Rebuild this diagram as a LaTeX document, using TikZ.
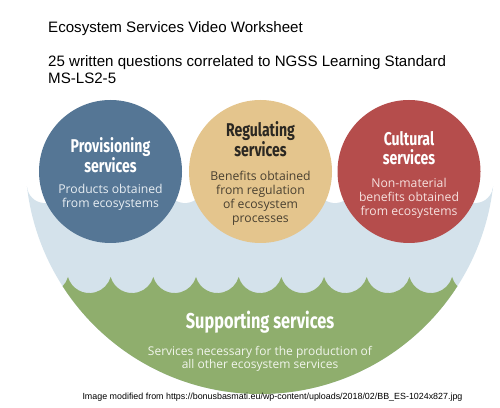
\documentclass[tikz,border=0pt]{standalone}
\usepackage{fontspec}
\setmainfont{Liberation Sans}
\newfontfamily\headfont[FakeStretch=0.76]{Fira Sans}
\newfontfamily\bodyfont{Open Sans}
\usepackage{tikz}

\definecolor{provblue}{HTML}{557695}
\definecolor{regtan}{HTML}{E4C58D}
\definecolor{cultred}{HTML}{B54D4C}
\definecolor{waterblue}{HTML}{D4E2EB}
\definecolor{soilgreen}{HTML}{8FAE6D}
\definecolor{provtxt}{HTML}{E8EEF3}
\definecolor{regdark}{HTML}{2B2822}
\definecolor{regtxt}{HTML}{4A4131}
\definecolor{culttxt}{HTML}{F6E1DF}
\definecolor{supptxt}{HTML}{F1F5EC}

\tikzset{
  service/.style={circle, inner sep=0, minimum size=143pt},
  headtxt/.style={align=center, inner sep=0, text=white,
    font=\headfont\bfseries\fontsize{18.5}{19}\selectfont},
  bodytxt/.style={align=center, inner sep=0,
    font=\bodyfont\fontsize{12.2}{14}\selectfont},
  titletxt/.style={anchor=base west, inner sep=0,
    font=\fontsize{15.1}{17.3}\selectfont}
}

\begin{document}
\begin{tikzpicture}[x=1pt, y=1pt]
  \useasboundingbox (0,0) rectangle (500,407);

  \node[titletxt] (title) at (48,374.7) {Ecosystem Services Video Worksheet};
  \node[titletxt] (question) at (48,340) {25 written questions correlated to NGSS Learning Standard};
  \node[titletxt] (standard) at (48,323.7) {MS-LS2-5};

  % the bowl: water on top, soil below
  \coordinate (bowl) at (260,247.6);
  \begin{scope}
    \clip (bowl) circle[radius=234.6pt];
    \fill[waterblue] (0,0) rectangle (500,221);
    \foreach \x in {45, 185, 335, 475} {
      \fill[white] (\x,222) circle[radius=18pt];
    }
    \fill[soilgreen] (0,0) -- (0,130) -- (25.3,130)
      foreach \k in {0,...,10} {arc[start angle=196, end angle=344, radius=22.2pt]}
      -- (500,130) -- (500,0) -- cycle;
  \end{scope}

  \node[service, fill=provblue] (prov) at (110.5,235.5) {};
  \node[service, fill=regtan] (reg) at (260.5,235.5) {};
  \node[service, fill=cultred] (cult) at (409,235.5) {};

  \node[headtxt] (provhead) at (110.5,252) {Provisioning\\services};
  \node[bodytxt, text=provtxt] (provbody) at (110.5,209.5) {Products obtained\\from ecosystems};

  \node[headtxt, text=regdark] (reghead) at (260.5,268) {Regulating\\services};
  \node[bodytxt, text=regtxt] (regbody) at (260.5,209) {Benefits obtained\\from regulation\\of ecosystem\\processes};

  \node[headtxt] (culthead) at (409,258.5) {Cultural\\services};
  \node[bodytxt, text=culttxt] (cultbody) at (409,209) {Non-material\\benefits obtained\\from ecosystems};

  \node[headtxt, anchor=base, font=\headfont\bfseries\fontsize{21.5}{22}\selectfont] (supphead) at (260,79) {Supporting services};
  \node[bodytxt, text=supptxt, font=\bodyfont\fontsize{12}{13.5}\selectfont] (suppbody) at (260,48) {Services necessary for the production of\\all other ecosystem services};

  \node[anchor=base, inner sep=0, font=\fontsize{8.9}{10}\selectfont] (credit) at (272.5,8)
    {Image modified from https://bonusbasmati.eu/wp-content/uploads/2018/02/BB\_ES-1024x827.jpg};
\end{tikzpicture}
\end{document}
